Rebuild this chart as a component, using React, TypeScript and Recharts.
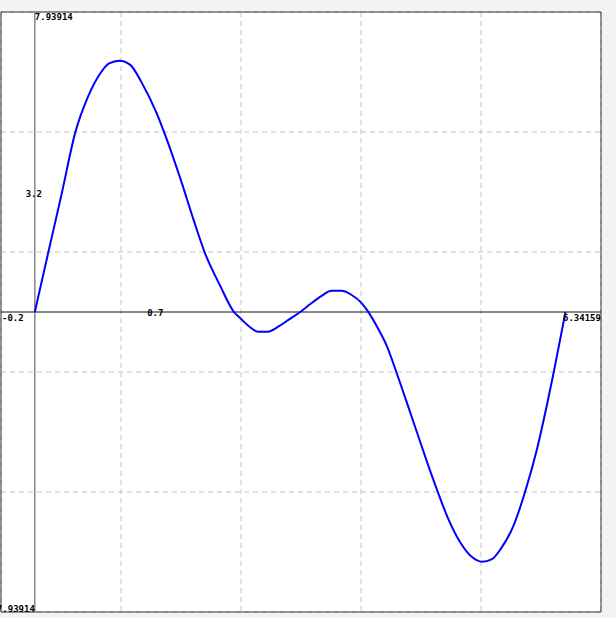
import {
  CartesianGrid,
  Line,
  LineChart,
  ReferenceArea,
  ReferenceDot,
  ReferenceLine,
  XAxis,
  YAxis,
} from "recharts";

// Curve: x positions and the matching y values.
const X_VALUES = [
  0, 0.16, 0.32, 0.48, 0.63, 0.77, 0.88, 1.0, 1.13, 1.26, 1.44, 1.53, 1.74, 1.88,
  2.01, 2.19, 2.36, 2.43, 2.53, 2.64, 2.76, 2.88, 3.0, 3.14, 3.26, 3.39, 3.51,
  3.63, 3.75, 3.87, 3.95, 4.05, 4.16, 4.28, 4.4, 4.52, 4.64, 4.77, 4.89, 5.03,
  5.17, 5.29, 5.41, 5.52, 5.66, 5.8, 5.94, 6.06, 6.14, 6.28,
];
const Y_VALUES = [
  0, 1.58, 3.15, 4.76, 5.7, 6.3, 6.58, 6.65, 6.54, 6.09, 5.27, 4.76, 3.41, 2.43,
  1.58, 0.71, -0.01, -0.16, -0.37, -0.52, -0.52, -0.39, -0.21, 0, 0.21, 0.42,
  0.56, 0.56, 0.45, 0.23, -0.01, -0.39, -0.87, -1.6, -2.38, -3.17, -3.96, -4.77,
  -5.46, -6.08, -6.48, -6.61, -6.54, -6.25, -5.68, -4.77, -3.65, -2.46, -1.6, 0,
];

const X_DOMAIN = [-0.4, 6.7];
const Y_DOMAIN = [-7.93914, 7.93914];
// grid splits the box into fifths
const X_GRID = [-0.4, 1.02, 2.44, 3.86, 5.28, 6.7];
const Y_GRID = [-7.93914, -4.76348, -1.58783, 1.58783, 4.76348, 7.93914];

const LABEL_TEXT = ["7.93914", "-7.93914", "3.2", "-0.2", "0.7", "6.34159"];
const LABEL_X = [0, 0, 0, -0.4, 1.33, 6.28];
const LABEL_Y = [7.93914, -7.93914, 3.2, 0, 0, 0];

// offsets in px from the anchor point, and text-anchor
const LABEL_PLACE: [number, number, "start" | "middle" | "end"][] = [
  [0, 7.5, "start"],
  [0, 0, "end"],
  [-1, 5.5, "middle"],
  [1, 9, "start"],
  [0, 4, "start"],
  [-2.5, 8.5, "start"],
];

const points = X_VALUES.map((x, i) => ({ x, y: Y_VALUES[i] }));

function textLabel(text: string, dx: number, dy: number, anchor: string) {
  return (props: any) => {
    const vb = props.viewBox || {};
    const cx = (vb.x ?? 0) + (vb.width ?? 0) / 2;
    const cy = (vb.y ?? 0) + (vb.height ?? 0) / 2;
    return (
      <text
        x={cx + dx}
        y={cy + dy}
        textAnchor={anchor}
        fontFamily="'DejaVu Sans Mono', monospace"
        fontWeight="bold"
        fontSize={9}
        fill="#000"
      >
        {text}
      </text>
    );
  };
}

export default function App() {
  return (
    <div
      style={{
        position: "absolute",
        left: 0,
        top: 0,
        width: 616,
        height: 618,
        background: "#f4f4f4",
      }}
    >
      <LineChart
        width={616}
        height={618}
        data={points}
        margin={{ top: 12, right: 15, bottom: 6, left: 1 }}
      >
        <CartesianGrid stroke="#c4c4c4" strokeDasharray="5 4" fill="#fff" />
        <XAxis
          dataKey="x"
          type="number"
          domain={X_DOMAIN}
          ticks={X_GRID}
          allowDataOverflow
          hide
        />
        <YAxis type="number" domain={Y_DOMAIN} ticks={Y_GRID} allowDataOverflow hide />
        <ReferenceArea
          x1={X_DOMAIN[0]}
          x2={X_DOMAIN[1]}
          y1={Y_DOMAIN[0]}
          y2={Y_DOMAIN[1]}
          fill="none"
          fillOpacity={0}
          stroke="#333"
          strokeWidth={1}
        />
        <ReferenceLine x={0} stroke="#888" strokeWidth={1.5} />
        <ReferenceLine y={0} stroke="#111" strokeWidth={1} />
        <Line
          dataKey="y"
          type="monotone"
          stroke="#0000ff"
          strokeWidth={2}
          dot={false}
          isAnimationActive={false}
        />
        {LABEL_TEXT.map((t, i) => (
          <ReferenceDot
            key={t}
            x={LABEL_X[i]}
            y={LABEL_Y[i]}
            r={0}
            fill="none"
            stroke="none"
            label={{
              content: textLabel(t, LABEL_PLACE[i][0], LABEL_PLACE[i][1], LABEL_PLACE[i][2]),
            }}
          />
        ))}
      </LineChart>
    </div>
  );
}
